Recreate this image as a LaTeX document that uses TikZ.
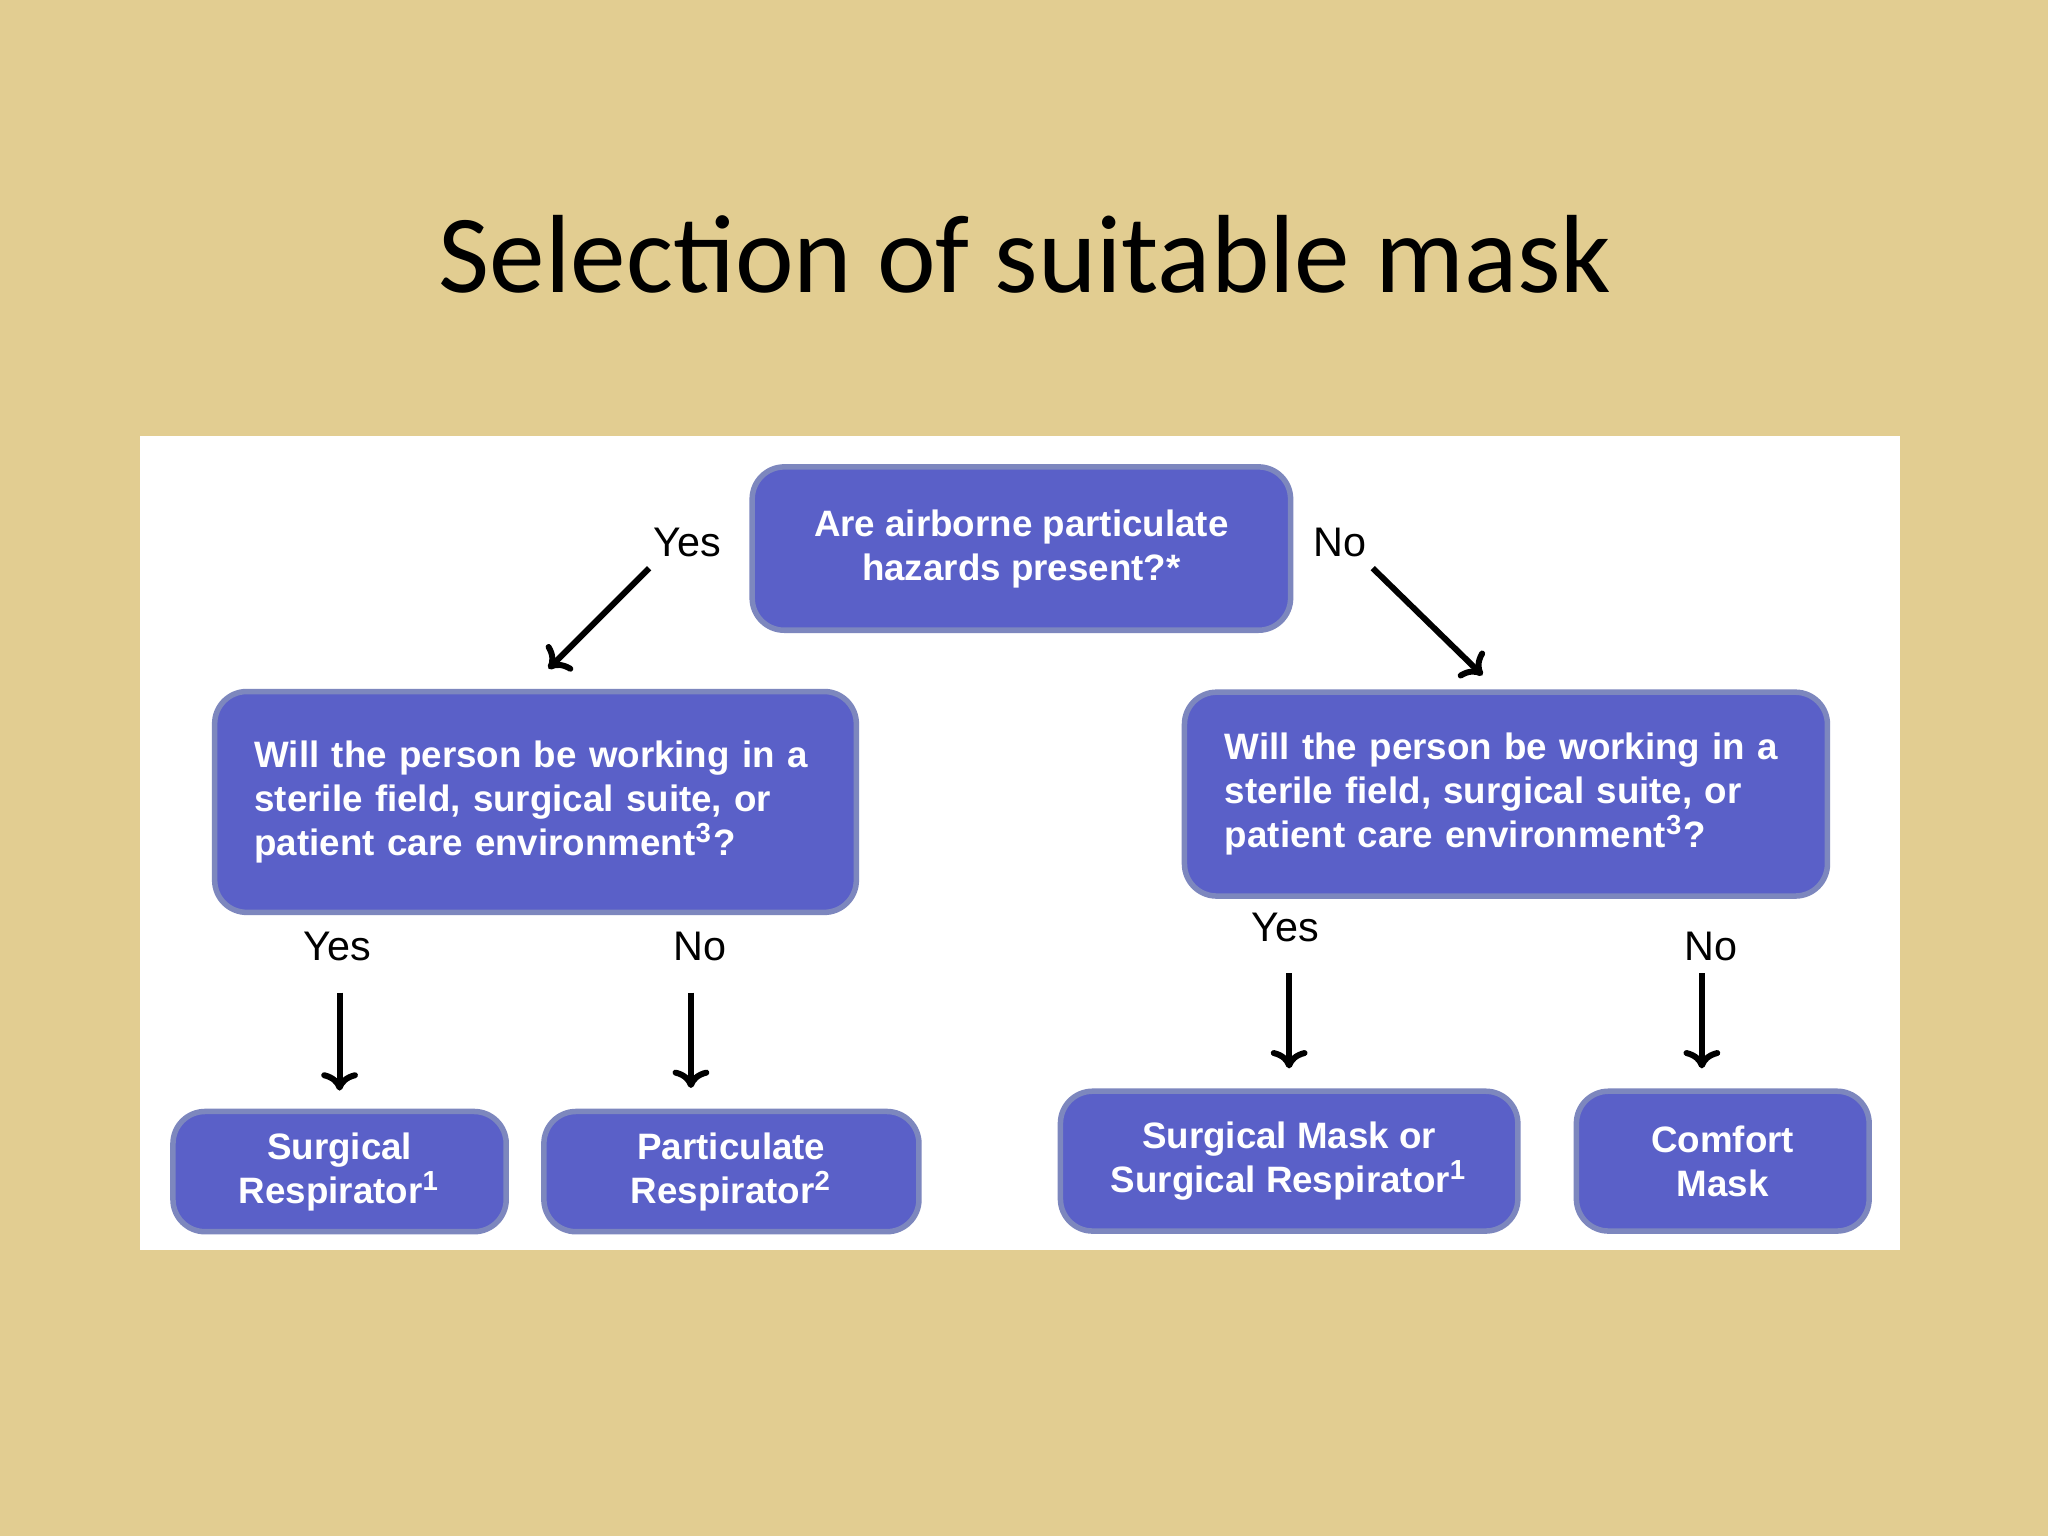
\documentclass[tikz,border=0pt]{standalone}
\usepackage{fontspec}
\setmainfont{Liberation Sans}
\newfontfamily\titlefont{Carlito}
\usetikzlibrary{arrows.meta}
\definecolor{bg}{RGB}{226,205,145}
\definecolor{boxc}{RGB}{90,96,200}
\definecolor{boxb}{RGB}{125,135,190}
\begin{document}
\begin{tikzpicture}[x=0.01cm,y=-0.01cm,
  box/.style={draw=boxb,line width=1.2pt,fill=boxc,rounded corners=7pt,text=white,inner sep=0pt,font=\bfseries\fontsize{8}{9.6}\selectfont},
  lbl/.style={font=\fontsize{9}{11}\selectfont},
  arr/.style={line width=1.3pt,-{To[length=4pt,width=8pt]}}]
\fill[bg] (0,0) rectangle (1568,1176);
\useasboundingbox (0,0) rectangle (1568,1176);
\fill[white] (107,334) rectangle (1455,957);
\node[font=\titlefont\fontsize{24.2}{29}\selectfont] (title) at (785,195) {Selection of suitable mask};
\node[box,minimum width=4.12cm,minimum height=1.25cm,align=center] (top) at (782,420) {Are airborne particulate\\hazards present?*};
\node[box,minimum width=4.91cm,minimum height=1.69cm,align=left,text width=4.3cm] (lm) at (410,614) {Will the person be working in a\\sterile field, surgical suite, or\\patient care environment\textsuperscript{3}?};
\node[box,minimum width=4.92cm,minimum height=1.56cm,align=left,text width=4.3cm] (rm) at (1153,608) {Will the person be working in a\\sterile field, surgical suite, or\\patient care environment\textsuperscript{3}?};
\node[box,minimum width=2.55cm,minimum height=0.92cm,align=center] (sr) at (260,897) {Surgical\\Respirator\textsuperscript{1}};
\node[box,minimum width=2.87cm,minimum height=0.92cm,align=center] (pr) at (560,897) {Particulate\\Respirator\textsuperscript{2}};
\node[box,minimum width=3.5cm,minimum height=1.07cm,align=center] (sm) at (987,889) {Surgical Mask or\\Surgical Respirator\textsuperscript{1}};
\node[box,minimum width=2.24cm,minimum height=1.07cm,align=center] (cm) at (1319,889) {Comfort\\Mask};
\node[lbl] (y1) at (526,415) {Yes};
\node[lbl] (n1) at (1026,415) {No};
\node[lbl] (y2) at (258,725) {Yes};
\node[lbl] (n2) at (536,725) {No};
\node[lbl] (y3) at (984,710) {Yes};
\node[lbl] (n3) at (1310,725) {No};
\coordinate (a1s) at (497,435); \coordinate (a1e) at (420,512);
\coordinate (a2s) at (1051,435); \coordinate (a2e) at (1135,517);
\coordinate (a3s) at (260,760); \coordinate (a3e) at (260,835);
\coordinate (a4s) at (529,760); \coordinate (a4e) at (529,833);
\coordinate (a5s) at (987,745); \coordinate (a5e) at (987,818);
\coordinate (a6s) at (1303,745); \coordinate (a6e) at (1303,818);
\draw[arr] (a1s) -- (a1e);
\draw[arr] (a2s) -- (a2e);
\draw[arr] (a3s) -- (a3e);
\draw[arr] (a4s) -- (a4e);
\draw[arr] (a5s) -- (a5e);
\draw[arr] (a6s) -- (a6e);
\end{tikzpicture}
\end{document}
